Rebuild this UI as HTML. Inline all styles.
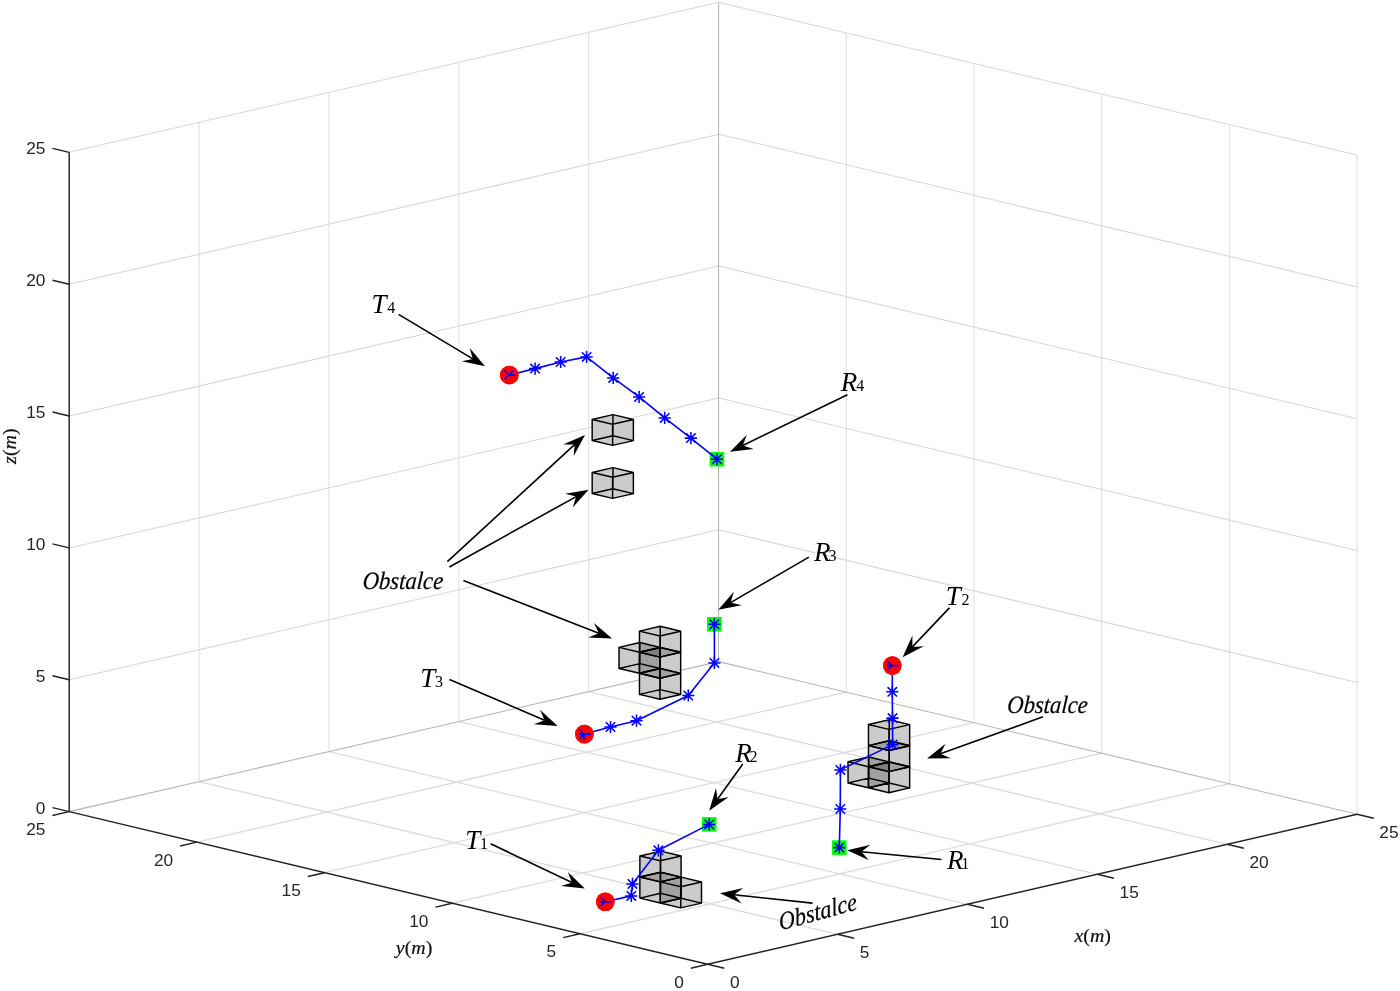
<!DOCTYPE html>
<html lang="en">
<head>
<meta charset="utf-8">
<title>3D path planning plot</title>
<style>
html,body{margin:0;padding:0;background:#fff;}
body{width:1400px;height:991px;overflow:hidden;}
svg{display:block;}
.g{stroke:#d6d6d6;stroke-width:1.05;fill:none;}
.gw{stroke:#dedede;stroke-width:1;fill:none;}
.gf{stroke:#dcdcdc;stroke-width:1.35;fill:none;}
.gb{stroke:#b4b4b4;stroke-width:1.1;fill:none;}
.gv{stroke:#9a9a9a;stroke-width:0.8;fill:none;}
.ax{stroke:#222;stroke-width:1.45;fill:none;stroke-linecap:butt;}
.tk{font-family:"Liberation Sans",Arial,Helvetica,sans-serif;font-size:17.3px;fill:#262626;}
.al{font-family:"Liberation Serif","Times New Roman",Times,serif;font-size:18.8px;fill:#111;stroke:#111;stroke-width:0.2px;}
.it{font-style:italic;}
.cw{fill:#fff;stroke:none;}
.cf{fill:rgba(0,0,0,0.105);stroke:none;}
.ce{fill:none;stroke:#000;stroke-width:1.45;stroke-linejoin:round;stroke-linecap:round;}
.pl{fill:none;stroke:#0000ff;stroke-width:1.6;stroke-linejoin:round;}
.st{fill:none;stroke:#0000ff;stroke-width:1.55;stroke-linecap:butt;}
.rc{fill:#ff0000;}
.gs{fill:#00ff00;}
.ar{stroke:#000;stroke-width:1.6;fill:none;}
.ah{fill:#000;stroke:none;}
.lb{font-family:"Liberation Serif","Times New Roman",Times,serif;font-size:27px;font-style:italic;fill:#000;}
.sb{font-family:"Liberation Serif","Times New Roman",Times,serif;font-size:16px;font-style:normal;fill:#000;}
.ob{font-family:"Liberation Serif","Times New Roman",Times,serif;font-size:25px;font-style:italic;fill:#000;stroke:#000;stroke-width:0.2px;}
</style>
</head>
<body>
<svg width="1400" height="991" viewBox="0 0 1400 991">
<rect x="0" y="0" width="1400" height="991" fill="#ffffff"/>
<g id="grid">
<line class="gf" x1="837.48" y1="934.3" x2="199.08" y2="781.6"/>
<line class="gf" x1="579.92" y1="933.76" x2="1229.32" y2="783.76"/>
<line class="gw" x1="199.08" y1="781.6" x2="199.08" y2="122.35"/>
<line class="g" x1="69.2" y1="679.75" x2="718.6" y2="529.75"/>
<line class="gw" x1="1229.32" y1="783.76" x2="1229.32" y2="124.51"/>
<line class="g" x1="718.6" y1="529.75" x2="1357" y2="682.45"/>
<line class="gf" x1="967.36" y1="904.3" x2="328.96" y2="751.6"/>
<line class="gf" x1="452.24" y1="903.22" x2="1101.64" y2="753.22"/>
<line class="gw" x1="328.96" y1="751.6" x2="328.96" y2="92.35"/>
<line class="g" x1="69.2" y1="547.9" x2="718.6" y2="397.9"/>
<line class="gw" x1="1101.64" y1="753.22" x2="1101.64" y2="93.97"/>
<line class="g" x1="718.6" y1="397.9" x2="1357" y2="550.6"/>
<line class="gf" x1="1097.24" y1="874.3" x2="458.84" y2="721.6"/>
<line class="gf" x1="324.56" y1="872.68" x2="973.96" y2="722.68"/>
<line class="gw" x1="458.84" y1="721.6" x2="458.84" y2="62.35"/>
<line class="g" x1="69.2" y1="416.05" x2="718.6" y2="266.05"/>
<line class="gw" x1="973.96" y1="722.68" x2="973.96" y2="63.43"/>
<line class="g" x1="718.6" y1="266.05" x2="1357" y2="418.75"/>
<line class="gf" x1="1227.12" y1="844.3" x2="588.72" y2="691.6"/>
<line class="gf" x1="196.88" y1="842.14" x2="846.28" y2="692.14"/>
<line class="gw" x1="588.72" y1="691.6" x2="588.72" y2="32.35"/>
<line class="g" x1="69.2" y1="284.2" x2="718.6" y2="134.2"/>
<line class="gw" x1="846.28" y1="692.14" x2="846.28" y2="32.89"/>
<line class="g" x1="718.6" y1="134.2" x2="1357" y2="286.9"/>
<line class="g" x1="69.2" y1="152.35" x2="718.6" y2="2.35"/>
<line class="g" x1="718.6" y1="2.35" x2="1357" y2="155.05"/>
<line class="gw" x1="1357" y1="814.3" x2="1357" y2="155.05"/>
<line class="gb" x1="69.2" y1="811.6" x2="718.6" y2="661.6"/>
<line class="gb" x1="718.6" y1="661.6" x2="1357" y2="814.3"/>
<line class="gv" x1="718.6" y1="661.6" x2="718.6" y2="2.35"/>
</g>
<g id="axes">
<line class="ax" x1="69.2" y1="811.6" x2="69.2" y2="152.35"/>
<line class="ax" x1="707.6" y1="964.3" x2="69.2" y2="811.6"/>
<line class="ax" x1="707.6" y1="964.3" x2="1357" y2="814.3"/>
<line class="ax" x1="69.2" y1="811.6" x2="52.47" y2="807.6"/>
<text class="tk" text-anchor="end" x="45.47" y="813.7">0</text>
<line class="ax" x1="69.2" y1="679.75" x2="52.47" y2="675.75"/>
<text class="tk" text-anchor="end" x="45.47" y="681.85">5</text>
<line class="ax" x1="69.2" y1="547.9" x2="52.47" y2="543.9"/>
<text class="tk" text-anchor="end" x="45.47" y="550">10</text>
<line class="ax" x1="69.2" y1="416.05" x2="52.47" y2="412.05"/>
<text class="tk" text-anchor="end" x="45.47" y="418.15">15</text>
<line class="ax" x1="69.2" y1="284.2" x2="52.47" y2="280.2"/>
<text class="tk" text-anchor="end" x="45.47" y="286.3">20</text>
<line class="ax" x1="69.2" y1="152.35" x2="52.47" y2="148.35"/>
<text class="tk" text-anchor="end" x="45.47" y="154.45">25</text>
<line class="ax" x1="707.6" y1="964.3" x2="690.84" y2="968.17"/>
<text class="tk" text-anchor="end" x="683.84" y="987.97">0</text>
<line class="ax" x1="579.92" y1="933.76" x2="563.16" y2="937.63"/>
<text class="tk" text-anchor="end" x="556.16" y="957.43">5</text>
<line class="ax" x1="452.24" y1="903.22" x2="435.48" y2="907.09"/>
<text class="tk" text-anchor="end" x="428.48" y="926.89">10</text>
<line class="ax" x1="324.56" y1="872.68" x2="307.8" y2="876.55"/>
<text class="tk" text-anchor="end" x="300.8" y="896.35">15</text>
<line class="ax" x1="196.88" y1="842.14" x2="180.12" y2="846.01"/>
<text class="tk" text-anchor="end" x="173.12" y="865.81">20</text>
<line class="ax" x1="69.2" y1="811.6" x2="52.44" y2="815.47"/>
<text class="tk" text-anchor="end" x="45.44" y="835.27">25</text>
<line class="ax" x1="707.6" y1="964.3" x2="724.33" y2="968.3"/>
<text class="tk" text-anchor="start" x="729.93" y="988.1">0</text>
<line class="ax" x1="837.48" y1="934.3" x2="854.21" y2="938.3"/>
<text class="tk" text-anchor="start" x="859.81" y="958.1">5</text>
<line class="ax" x1="967.36" y1="904.3" x2="984.09" y2="908.3"/>
<text class="tk" text-anchor="start" x="989.69" y="928.1">10</text>
<line class="ax" x1="1097.24" y1="874.3" x2="1113.97" y2="878.3"/>
<text class="tk" text-anchor="start" x="1119.57" y="898.1">15</text>
<line class="ax" x1="1227.12" y1="844.3" x2="1243.85" y2="848.3"/>
<text class="tk" text-anchor="start" x="1249.45" y="868.1">20</text>
<line class="ax" x1="1357" y1="814.3" x2="1373.73" y2="818.3"/>
<text class="tk" text-anchor="start" x="1379.33" y="838.1">25</text>
</g>
<g id="axlabels">
<text class="al" transform="translate(15.5 463.9) rotate(-90) scale(1.065 1)"><tspan class="it">z</tspan>(<tspan class="it">m</tspan>)</text>
<text class="al" transform="translate(395.8 953.5) scale(1.06 1)"><tspan class="it">y</tspan>(<tspan class="it">m</tspan>)</text>
<text class="al" transform="translate(1074.4 941.7) scale(1.06 1)"><tspan class="it">x</tspan>(<tspan class="it">m</tspan>)</text>
</g>
<g id="cubes">
<polygon class="cw" points="612.6,445.4 633.38,440.6 633.38,419.5 612.95,414.62 592.17,419.42 592.17,440.51"/>
<polygon class="cw" points="612.6,498.4 633.38,493.6 633.38,472.5 612.95,467.62 592.17,472.42 592.17,493.51"/>
<polygon class="cw" points="639.47,673.32 660.25,668.52 660.25,647.42 639.82,642.54 619.04,647.34 619.04,668.43"/>
<polygon class="cw" points="659.9,699.3 680.68,694.5 680.68,673.4 660.25,668.52 639.47,673.32 639.47,694.41"/>
<polygon class="cw" points="659.9,678.2 680.68,673.4 680.68,652.31 660.25,647.42 639.47,652.22 639.47,673.32"/>
<polygon class="cw" points="659.9,657.11 680.68,652.31 680.68,631.21 660.25,626.33 639.47,631.13 639.47,652.22"/>
<polygon class="cw" points="868.47,787.81 889.25,783.01 889.25,761.92 868.82,757.03 848.04,761.83 848.04,782.93"/>
<polygon class="cw" points="888.9,792.7 909.68,787.9 909.68,766.8 889.25,761.92 868.47,766.72 868.47,787.81"/>
<polygon class="cw" points="888.9,771.6 909.68,766.8 909.68,745.71 889.25,740.82 868.47,745.62 868.47,766.72"/>
<polygon class="cw" points="888.9,750.51 909.68,745.71 909.68,724.61 889.25,719.73 868.47,724.53 868.47,745.62"/>
<polygon class="cw" points="660.3,903 681.08,898.2 681.08,877.1 660.65,872.22 639.87,877.02 639.87,898.11"/>
<polygon class="cw" points="660.3,881.9 681.08,877.1 681.08,856.01 660.65,851.12 639.87,855.92 639.87,877.02"/>
<polygon class="cw" points="680.73,907.89 701.51,903.09 701.51,881.99 681.08,877.1 660.3,881.9 660.3,903"/>
<polygon class="cf" points="612.6,445.4 633.38,440.6 612.95,435.71 592.17,440.51"/>
<polygon class="cf" points="612.6,424.3 633.38,419.5 612.95,414.62 592.17,419.42"/>
<polygon class="cf" points="612.6,445.4 633.38,440.6 633.38,419.5 612.6,424.3"/>
<polygon class="cf" points="592.17,440.51 612.95,435.71 612.95,414.62 592.17,419.42"/>
<polygon class="cf" points="612.6,445.4 592.17,440.51 592.17,419.42 612.6,424.3"/>
<polygon class="cf" points="633.38,440.6 612.95,435.71 612.95,414.62 633.38,419.5"/>
<polygon class="cf" points="612.6,498.4 633.38,493.6 612.95,488.71 592.17,493.51"/>
<polygon class="cf" points="612.6,477.3 633.38,472.5 612.95,467.62 592.17,472.42"/>
<polygon class="cf" points="612.6,498.4 633.38,493.6 633.38,472.5 612.6,477.3"/>
<polygon class="cf" points="592.17,493.51 612.95,488.71 612.95,467.62 592.17,472.42"/>
<polygon class="cf" points="612.6,498.4 592.17,493.51 592.17,472.42 612.6,477.3"/>
<polygon class="cf" points="633.38,493.6 612.95,488.71 612.95,467.62 633.38,472.5"/>
<polygon class="cf" points="639.47,673.32 660.25,668.52 639.82,663.63 619.04,668.43"/>
<polygon class="cf" points="639.47,652.22 660.25,647.42 639.82,642.54 619.04,647.34"/>
<polygon class="cf" points="639.47,673.32 660.25,668.52 660.25,647.42 639.47,652.22"/>
<polygon class="cf" points="619.04,668.43 639.82,663.63 639.82,642.54 619.04,647.34"/>
<polygon class="cf" points="639.47,673.32 619.04,668.43 619.04,647.34 639.47,652.22"/>
<polygon class="cf" points="660.25,668.52 639.82,663.63 639.82,642.54 660.25,647.42"/>
<polygon class="cf" points="659.9,699.3 680.68,694.5 660.25,689.61 639.47,694.41"/>
<polygon class="cf" points="659.9,678.2 680.68,673.4 660.25,668.52 639.47,673.32"/>
<polygon class="cf" points="659.9,699.3 680.68,694.5 680.68,673.4 659.9,678.2"/>
<polygon class="cf" points="639.47,694.41 660.25,689.61 660.25,668.52 639.47,673.32"/>
<polygon class="cf" points="659.9,699.3 639.47,694.41 639.47,673.32 659.9,678.2"/>
<polygon class="cf" points="680.68,694.5 660.25,689.61 660.25,668.52 680.68,673.4"/>
<polygon class="cf" points="659.9,678.2 680.68,673.4 660.25,668.52 639.47,673.32"/>
<polygon class="cf" points="659.9,657.11 680.68,652.31 660.25,647.42 639.47,652.22"/>
<polygon class="cf" points="659.9,678.2 680.68,673.4 680.68,652.31 659.9,657.11"/>
<polygon class="cf" points="639.47,673.32 660.25,668.52 660.25,647.42 639.47,652.22"/>
<polygon class="cf" points="659.9,678.2 639.47,673.32 639.47,652.22 659.9,657.11"/>
<polygon class="cf" points="680.68,673.4 660.25,668.52 660.25,647.42 680.68,652.31"/>
<polygon class="cf" points="659.9,657.11 680.68,652.31 660.25,647.42 639.47,652.22"/>
<polygon class="cf" points="659.9,636.01 680.68,631.21 660.25,626.33 639.47,631.13"/>
<polygon class="cf" points="659.9,657.11 680.68,652.31 680.68,631.21 659.9,636.01"/>
<polygon class="cf" points="639.47,652.22 660.25,647.42 660.25,626.33 639.47,631.13"/>
<polygon class="cf" points="659.9,657.11 639.47,652.22 639.47,631.13 659.9,636.01"/>
<polygon class="cf" points="680.68,652.31 660.25,647.42 660.25,626.33 680.68,631.21"/>
<polygon class="cf" points="868.47,787.81 889.25,783.01 868.82,778.13 848.04,782.93"/>
<polygon class="cf" points="868.47,766.72 889.25,761.92 868.82,757.03 848.04,761.83"/>
<polygon class="cf" points="868.47,787.81 889.25,783.01 889.25,761.92 868.47,766.72"/>
<polygon class="cf" points="848.04,782.93 868.82,778.13 868.82,757.03 848.04,761.83"/>
<polygon class="cf" points="868.47,787.81 848.04,782.93 848.04,761.83 868.47,766.72"/>
<polygon class="cf" points="889.25,783.01 868.82,778.13 868.82,757.03 889.25,761.92"/>
<polygon class="cf" points="888.9,792.7 909.68,787.9 889.25,783.01 868.47,787.81"/>
<polygon class="cf" points="888.9,771.6 909.68,766.8 889.25,761.92 868.47,766.72"/>
<polygon class="cf" points="888.9,792.7 909.68,787.9 909.68,766.8 888.9,771.6"/>
<polygon class="cf" points="868.47,787.81 889.25,783.01 889.25,761.92 868.47,766.72"/>
<polygon class="cf" points="888.9,792.7 868.47,787.81 868.47,766.72 888.9,771.6"/>
<polygon class="cf" points="909.68,787.9 889.25,783.01 889.25,761.92 909.68,766.8"/>
<polygon class="cf" points="888.9,771.6 909.68,766.8 889.25,761.92 868.47,766.72"/>
<polygon class="cf" points="888.9,750.51 909.68,745.71 889.25,740.82 868.47,745.62"/>
<polygon class="cf" points="888.9,771.6 909.68,766.8 909.68,745.71 888.9,750.51"/>
<polygon class="cf" points="868.47,766.72 889.25,761.92 889.25,740.82 868.47,745.62"/>
<polygon class="cf" points="888.9,771.6 868.47,766.72 868.47,745.62 888.9,750.51"/>
<polygon class="cf" points="909.68,766.8 889.25,761.92 889.25,740.82 909.68,745.71"/>
<polygon class="cf" points="888.9,750.51 909.68,745.71 889.25,740.82 868.47,745.62"/>
<polygon class="cf" points="888.9,729.41 909.68,724.61 889.25,719.73 868.47,724.53"/>
<polygon class="cf" points="888.9,750.51 909.68,745.71 909.68,724.61 888.9,729.41"/>
<polygon class="cf" points="868.47,745.62 889.25,740.82 889.25,719.73 868.47,724.53"/>
<polygon class="cf" points="888.9,750.51 868.47,745.62 868.47,724.53 888.9,729.41"/>
<polygon class="cf" points="909.68,745.71 889.25,740.82 889.25,719.73 909.68,724.61"/>
<polygon class="cf" points="660.3,903 681.08,898.2 660.65,893.31 639.87,898.11"/>
<polygon class="cf" points="660.3,881.9 681.08,877.1 660.65,872.22 639.87,877.02"/>
<polygon class="cf" points="660.3,903 681.08,898.2 681.08,877.1 660.3,881.9"/>
<polygon class="cf" points="639.87,898.11 660.65,893.31 660.65,872.22 639.87,877.02"/>
<polygon class="cf" points="660.3,903 639.87,898.11 639.87,877.02 660.3,881.9"/>
<polygon class="cf" points="681.08,898.2 660.65,893.31 660.65,872.22 681.08,877.1"/>
<polygon class="cf" points="660.3,881.9 681.08,877.1 660.65,872.22 639.87,877.02"/>
<polygon class="cf" points="660.3,860.81 681.08,856.01 660.65,851.12 639.87,855.92"/>
<polygon class="cf" points="660.3,881.9 681.08,877.1 681.08,856.01 660.3,860.81"/>
<polygon class="cf" points="639.87,877.02 660.65,872.22 660.65,851.12 639.87,855.92"/>
<polygon class="cf" points="660.3,881.9 639.87,877.02 639.87,855.92 660.3,860.81"/>
<polygon class="cf" points="681.08,877.1 660.65,872.22 660.65,851.12 681.08,856.01"/>
<polygon class="cf" points="680.73,907.89 701.51,903.09 681.08,898.2 660.3,903"/>
<polygon class="cf" points="680.73,886.79 701.51,881.99 681.08,877.1 660.3,881.9"/>
<polygon class="cf" points="680.73,907.89 701.51,903.09 701.51,881.99 680.73,886.79"/>
<polygon class="cf" points="660.3,903 681.08,898.2 681.08,877.1 660.3,881.9"/>
<polygon class="cf" points="680.73,907.89 660.3,903 660.3,881.9 680.73,886.79"/>
<polygon class="cf" points="701.51,903.09 681.08,898.2 681.08,877.1 701.51,881.99"/>
<path class="ce" d="M612.6 445.4L633.38 440.6L612.95 435.71L592.17 440.51ZM612.6 424.3L633.38 419.5L612.95 414.62L592.17 419.42ZM612.6 445.4L612.6 424.3M633.38 440.6L633.38 419.5M612.95 435.71L612.95 414.62M592.17 440.51L592.17 419.42"/>
<path class="ce" d="M612.6 498.4L633.38 493.6L612.95 488.71L592.17 493.51ZM612.6 477.3L633.38 472.5L612.95 467.62L592.17 472.42ZM612.6 498.4L612.6 477.3M633.38 493.6L633.38 472.5M612.95 488.71L612.95 467.62M592.17 493.51L592.17 472.42"/>
<path class="ce" d="M639.47 673.32L660.25 668.52L639.82 663.63L619.04 668.43ZM639.47 652.22L660.25 647.42L639.82 642.54L619.04 647.34ZM639.47 673.32L639.47 652.22M660.25 668.52L660.25 647.42M639.82 663.63L639.82 642.54M619.04 668.43L619.04 647.34"/>
<path class="ce" d="M659.9 699.3L680.68 694.5L660.25 689.61L639.47 694.41ZM659.9 678.2L680.68 673.4L660.25 668.52L639.47 673.32ZM659.9 699.3L659.9 678.2M680.68 694.5L680.68 673.4M660.25 689.61L660.25 668.52M639.47 694.41L639.47 673.32"/>
<path class="ce" d="M659.9 678.2L680.68 673.4L660.25 668.52L639.47 673.32ZM659.9 657.11L680.68 652.31L660.25 647.42L639.47 652.22ZM659.9 678.2L659.9 657.11M680.68 673.4L680.68 652.31M660.25 668.52L660.25 647.42M639.47 673.32L639.47 652.22"/>
<path class="ce" d="M659.9 657.11L680.68 652.31L660.25 647.42L639.47 652.22ZM659.9 636.01L680.68 631.21L660.25 626.33L639.47 631.13ZM659.9 657.11L659.9 636.01M680.68 652.31L680.68 631.21M660.25 647.42L660.25 626.33M639.47 652.22L639.47 631.13"/>
<path class="ce" d="M868.47 787.81L889.25 783.01L868.82 778.13L848.04 782.93ZM868.47 766.72L889.25 761.92L868.82 757.03L848.04 761.83ZM868.47 787.81L868.47 766.72M889.25 783.01L889.25 761.92M868.82 778.13L868.82 757.03M848.04 782.93L848.04 761.83"/>
<path class="ce" d="M888.9 792.7L909.68 787.9L889.25 783.01L868.47 787.81ZM888.9 771.6L909.68 766.8L889.25 761.92L868.47 766.72ZM888.9 792.7L888.9 771.6M909.68 787.9L909.68 766.8M889.25 783.01L889.25 761.92M868.47 787.81L868.47 766.72"/>
<path class="ce" d="M888.9 771.6L909.68 766.8L889.25 761.92L868.47 766.72ZM888.9 750.51L909.68 745.71L889.25 740.82L868.47 745.62ZM888.9 771.6L888.9 750.51M909.68 766.8L909.68 745.71M889.25 761.92L889.25 740.82M868.47 766.72L868.47 745.62"/>
<path class="ce" d="M888.9 750.51L909.68 745.71L889.25 740.82L868.47 745.62ZM888.9 729.41L909.68 724.61L889.25 719.73L868.47 724.53ZM888.9 750.51L888.9 729.41M909.68 745.71L909.68 724.61M889.25 740.82L889.25 719.73M868.47 745.62L868.47 724.53"/>
<path class="ce" d="M660.3 903L681.08 898.2L660.65 893.31L639.87 898.11ZM660.3 881.9L681.08 877.1L660.65 872.22L639.87 877.02ZM660.3 903L660.3 881.9M681.08 898.2L681.08 877.1M660.65 893.31L660.65 872.22M639.87 898.11L639.87 877.02"/>
<path class="ce" d="M660.3 881.9L681.08 877.1L660.65 872.22L639.87 877.02ZM660.3 860.81L681.08 856.01L660.65 851.12L639.87 855.92ZM660.3 881.9L660.3 860.81M681.08 877.1L681.08 856.01M660.65 872.22L660.65 851.12M639.87 877.02L639.87 855.92"/>
<path class="ce" d="M680.73 907.89L701.51 903.09L681.08 898.2L660.3 903ZM680.73 886.79L701.51 881.99L681.08 877.1L660.3 881.9ZM680.73 907.89L680.73 886.79M701.51 903.09L701.51 881.99M681.08 898.2L681.08 877.1M660.3 903L660.3 881.9"/>
</g>
<g id="paths">
<rect class="gs" x="709.6" y="451.9" width="14.6" height="14.6"/>
<circle class="rc" cx="509.3" cy="375" r="9.3"/>
<polyline class="pl" points="509.3,375 535.1,368.6 560.7,362 586.6,356.9 613.2,377.9 639.1,396.9 664.7,417.9 690.9,438.1 716.9,459.2"/>
<circle class="rc" cx="509.3" cy="375" r="9.3"/>
<path class="st" d="M508.9 375L504.4 370.5M508.9 375L513.4 370.5M508.9 375L515.5 375M508.9 375L504.4 379.5"/>
<path class="st" d="M529 368.6H541.2M535.1 362.5V374.7M530.4 363.9L539.8 373.3M530.4 373.3L539.8 363.9"/>
<path class="st" d="M554.6 362H566.8M560.7 355.9V368.1M556 357.3L565.4 366.7M556 366.7L565.4 357.3"/>
<path class="st" d="M580.5 356.9H592.7M586.6 350.8V363M581.9 352.2L591.3 361.6M581.9 361.6L591.3 352.2"/>
<path class="st" d="M607.1 377.9H619.3M613.2 371.8V384M608.5 373.2L617.9 382.6M608.5 382.6L617.9 373.2"/>
<path class="st" d="M633 396.9H645.2M639.1 390.8V403M634.4 392.2L643.8 401.6M634.4 401.6L643.8 392.2"/>
<path class="st" d="M658.6 417.9H670.8M664.7 411.8V424M660 413.2L669.4 422.6M660 422.6L669.4 413.2"/>
<path class="st" d="M684.8 438.1H697M690.9 432V444.2M686.2 433.4L695.6 442.8M686.2 442.8L695.6 433.4"/>
<path class="st" d="M710.8 459.2H723M716.9 453.1V465.3M712.2 454.5L721.6 463.9M712.2 463.9L721.6 454.5"/>
<rect class="gs" x="707.1" y="617" width="14.6" height="14.6"/>
<circle class="rc" cx="584.4" cy="734.1" r="9.3"/>
<polyline class="pl" points="584.4,734.1 610.5,727 636.5,720.7 688.3,695.5 714.4,662.9 714.4,624.3"/>
<circle class="rc" cx="584.4" cy="734.1" r="9.3"/>
<path class="st" d="M584 734.1L578.8 734.1M584 734.1L590.6 734.1M584 734.1L579.5 729.6M584 734.1L579.5 738.6M584 734.1L584 740.1"/>
<path class="st" d="M604.4 727H616.6M610.5 720.9V733.1M605.8 722.3L615.2 731.7M605.8 731.7L615.2 722.3"/>
<path class="st" d="M630.4 720.7H642.6M636.5 714.6V726.8M631.8 716L641.2 725.4M631.8 725.4L641.2 716"/>
<path class="st" d="M682.2 695.5H694.4M688.3 689.4V701.6M683.6 690.8L693 700.2M683.6 700.2L693 690.8"/>
<path class="st" d="M708.3 662.9H720.5M714.4 656.8V669M709.7 658.2L719.1 667.6M709.7 667.6L719.1 658.2"/>
<path class="st" d="M708.3 624.3H720.5M714.4 618.2V630.4M709.7 619.6L719.1 629M709.7 629L719.1 619.6"/>
<rect class="gs" x="832" y="840.3" width="14.6" height="14.6"/>
<circle class="rc" cx="892.3" cy="665.6" r="9.3"/>
<polyline class="pl" points="892.3,665.6 892.3,691.8 892.5,718.1 892.6,744.6 840.4,769.9 840.3,809 839.3,847.6"/>
<circle class="rc" cx="892.3" cy="665.6" r="9.3"/>
<path class="st" d="M891.9 665.6L886.7 665.6M891.9 665.6L898.5 665.6M891.9 665.6L887.4 661.1M891.9 665.6L887.4 670.1"/>
<path class="st" d="M886.2 691.8H898.4M892.3 685.7V697.9M887.6 687.1L897 696.5M887.6 696.5L897 687.1"/>
<path class="st" d="M886.4 718.1H898.6M892.5 712V724.2M887.8 713.4L897.2 722.8M887.8 722.8L897.2 713.4"/>
<path class="st" d="M886.5 744.6H898.7M892.6 738.5V750.7M887.9 739.9L897.3 749.3M887.9 749.3L897.3 739.9"/>
<path class="st" d="M834.3 769.9H846.5M840.4 763.8V776M835.7 765.2L845.1 774.6M835.7 774.6L845.1 765.2"/>
<path class="st" d="M834.2 809H846.4M840.3 802.9V815.1M835.6 804.3L845 813.7M835.6 813.7L845 804.3"/>
<path class="st" d="M833.2 847.6H845.4M839.3 841.5V853.7M834.6 842.9L844 852.3M834.6 852.3L844 842.9"/>
<rect class="gs" x="701.9" y="817.1" width="14.6" height="14.6"/>
<circle class="rc" cx="605.3" cy="901.8" r="9.3"/>
<polyline class="pl" points="605.3,901.8 631.3,895.9 632.5,883.9 658.4,850.3 709.2,824.4"/>
<circle class="rc" cx="605.3" cy="901.8" r="9.3"/>
<path class="st" d="M604.9 901.8L599.7 901.8M604.9 901.8L611.5 901.8M604.9 901.8L600.4 897.3M604.9 901.8L600.4 906.3"/>
<path class="st" d="M625.2 895.9H637.4M631.3 889.8V902M626.6 891.2L636 900.6M626.6 900.6L636 891.2"/>
<path class="st" d="M626.4 883.9H638.6M632.5 877.8V890M627.8 879.2L637.2 888.6M627.8 888.6L637.2 879.2"/>
<path class="st" d="M652.3 850.3H664.5M658.4 844.2V856.4M653.7 845.6L663.1 855M653.7 855L663.1 845.6"/>
<path class="st" d="M703.1 824.4H715.3M709.2 818.3V830.5M704.5 819.7L713.9 829.1M704.5 829.1L713.9 819.7"/>
</g>
<g id="annot">
<line class="ar" x1="398.6" y1="314.4" x2="472.82" y2="358.9"/><polygon class="ah" points="485,366.2 461.69,361.32 472.82,358.9 469.71,347.94"/>
<line class="ar" x1="847.4" y1="394.8" x2="742.78" y2="445.51"/><polygon class="ah" points="730,451.7 746.85,434.87 742.78,445.51 753.65,448.91"/>
<line class="ar" x1="447.4" y1="561.6" x2="574.55" y2="444.61"/><polygon class="ah" points="585,435 573.72,455.97 574.55,444.61 563.16,444.49"/>
<line class="ar" x1="449.4" y1="567" x2="576.19" y2="496.59"/><polygon class="ah" points="588.6,489.7 572.72,507.44 576.19,496.59 565.14,493.8"/>
<line class="ar" x1="463.4" y1="580.5" x2="598.87" y2="633.25"/><polygon class="ah" points="612.1,638.4 588.3,637.5 598.87,633.25 593.96,622.97"/>
<line class="ar" x1="449.5" y1="679.5" x2="544.55" y2="720.3"/><polygon class="ah" points="557.6,725.9 533.85,724.19 544.55,720.3 540,709.86"/>
<line class="ar" x1="808.9" y1="557.1" x2="730.58" y2="602.57"/><polygon class="ah" points="718.3,609.7 733.84,591.66 730.58,602.57 741.67,605.15"/>
<line class="ar" x1="949.4" y1="607.9" x2="912.38" y2="646.9"/><polygon class="ah" points="902.6,657.2 912.43,635.51 912.38,646.9 923.75,646.25"/>
<line class="ar" x1="1043" y1="716.8" x2="940.36" y2="753.79"/><polygon class="ah" points="927,758.6 945.52,743.63 940.36,753.79 950.81,758.31"/>
<line class="ar" x1="941.5" y1="859.5" x2="861.43" y2="851.68"/><polygon class="ah" points="847.3,850.3 870.45,844.72 861.43,851.68 868.94,860.25"/>
<line class="ar" x1="742.8" y1="764" x2="717.49" y2="799.17"/><polygon class="ah" points="709.2,810.7 716.01,787.88 717.49,799.17 728.67,796.99"/>
<line class="ar" x1="490.7" y1="843.8" x2="571.98" y2="882.5"/><polygon class="ah" points="584.8,888.6 561.13,885.97 571.98,882.5 567.84,871.89"/>
<line class="ar" x1="812.5" y1="903.1" x2="734.12" y2="894.8"/><polygon class="ah" points="720,893.3 743.2,887.91 734.12,894.8 741.55,903.43"/>
<text class="lb" x="371.4" y="312.7">T</text><text class="sb" x="387.3" y="312.7">4</text>
<text class="lb" x="840.7" y="390.9">R</text><text class="sb" x="856.2" y="390.9">4</text>
<text class="lb" x="814.1" y="560.6">R</text><text class="sb" x="828.6" y="560.6">3</text>
<text class="lb" x="945.8" y="605.2">T</text><text class="sb" x="961.5" y="605.2">2</text>
<text class="lb" x="420.3" y="686.9">T</text><text class="sb" x="434.9" y="686.9">3</text>
<text class="lb" x="735.3" y="761.7">R</text><text class="sb" x="749.5" y="761.7">2</text>
<text class="lb" x="465.2" y="849.3">T</text><text class="sb" x="480.1" y="849.3">1</text>
<text class="lb" x="947.1" y="868.8">R</text><text class="sb" x="961.2" y="868.8">1</text>
<text class="ob" transform="translate(362.2 588.6) skewX(-4)" textLength="80.5" lengthAdjust="spacingAndGlyphs">Obstalce</text>
<text class="ob" transform="translate(1006.8 713.0) skewX(-4)" textLength="80.5" lengthAdjust="spacingAndGlyphs">Obstalce</text>
<text class="ob" transform="translate(780.2 930.5) rotate(-15.3) skewX(-6)" textLength="80.5" lengthAdjust="spacingAndGlyphs">Obstalce</text>
</g>
</svg>
</body>
</html>
